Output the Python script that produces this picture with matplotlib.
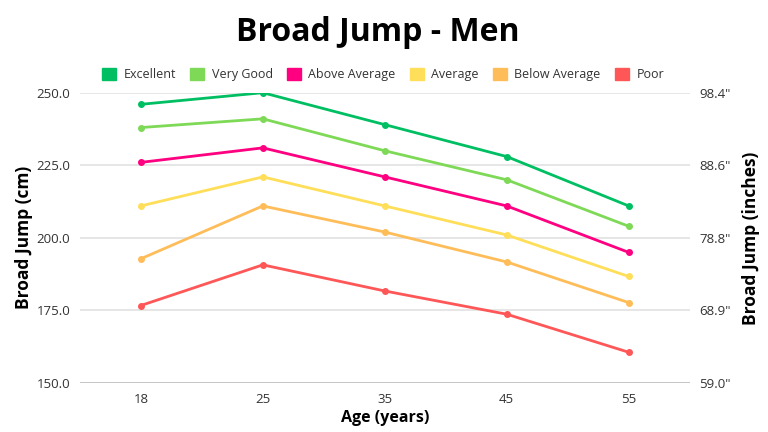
import matplotlib.pyplot as plt
from matplotlib.patches import Patch

ages = ['18', '25', '35', '45', '55']
excellent = [246, 250, 239, 228, 211]
very_good = [238, 241, 230, 220, 204]
above_avg = [226, 231, 221, 211, 195]
average = [211, 221, 211, 201, 186.7]
below_avg = [192.8, 211, 202, 191.7, 177.7]
poor = [176.7, 190.7, 181.7, 173.7, 160.6]

labels = ['Excellent', 'Very Good', 'Above Average', 'Average', 'Below Average', 'Poor']
colors = ['#00BF63', '#7ED957', '#FF0080', '#FFDE59', '#FFBD59', '#FF5757']
yticks = [150, 175, 200, 225, 250]
inch_labels = ['59.0"', '68.9"', '78.8"', '88.6"', '98.4"']

plt.rcParams['font.family'] = ['Open Sans', 'DejaVu Sans']

fig = plt.figure(figsize=(7.68, 4.32), dpi=100)
ax = fig.add_axes([0.104, 0.1134, 0.794, 0.672])

x = range(len(ages))
for series, c in zip([excellent, very_good, above_avg, average, below_avg, poor], colors):
    ax.plot(x, series, color=c, lw=2, marker='o', ms=4, zorder=3)

ax.set_xlim(-0.5, len(ages) - 0.5)
ax.set_ylim(150, 250)
ax.set_xticks(list(x))
ax.set_xticklabels(ages)
ax.set_yticks(yticks)
ax.set_yticklabels([f'{v:.1f}' for v in yticks])
for v in yticks:
    ax.axhline(v, color='#bbbbbb' if v == 150 else '#e2e2e2', lw=1.2, zorder=1)
for s in ax.spines.values():
    s.set_visible(False)
ax.tick_params(length=0, labelsize=9.5, colors='#333333', pad=7)

ax2 = ax.twinx()
ax2.set_ylim(150, 250)
ax2.set_yticks(yticks)
ax2.set_yticklabels(inch_labels)
for s in ax2.spines.values():
    s.set_visible(False)
ax2.tick_params(length=0, labelsize=9.5, colors='#333333', pad=7)

ax.set_xlabel('Age (years)', fontsize=11.5, fontweight='bold', labelpad=3)
ax.set_ylabel('Broad Jump (cm)', fontsize=12.5, fontweight='bold', labelpad=2)
ax2.set_ylabel('Broad Jump (inches)', fontsize=12.5, fontweight='bold', labelpad=8)

fig.text(0.492, 0.925, 'Broad Jump - Men', ha='center', va='center',
         fontsize=23, fontweight='bold')

handles = [Patch(color=c, label=l) for l, c in zip(labels, colors)]
fig.legend(handles=handles, loc='center', bbox_to_anchor=(0.499, 0.827), ncol=6,
           frameon=False, fontsize=9, handlelength=1.1, handleheight=1.1,
           columnspacing=1.15, handletextpad=0.6, labelcolor='#333333')

plt.savefig('out.png', dpi=100)
